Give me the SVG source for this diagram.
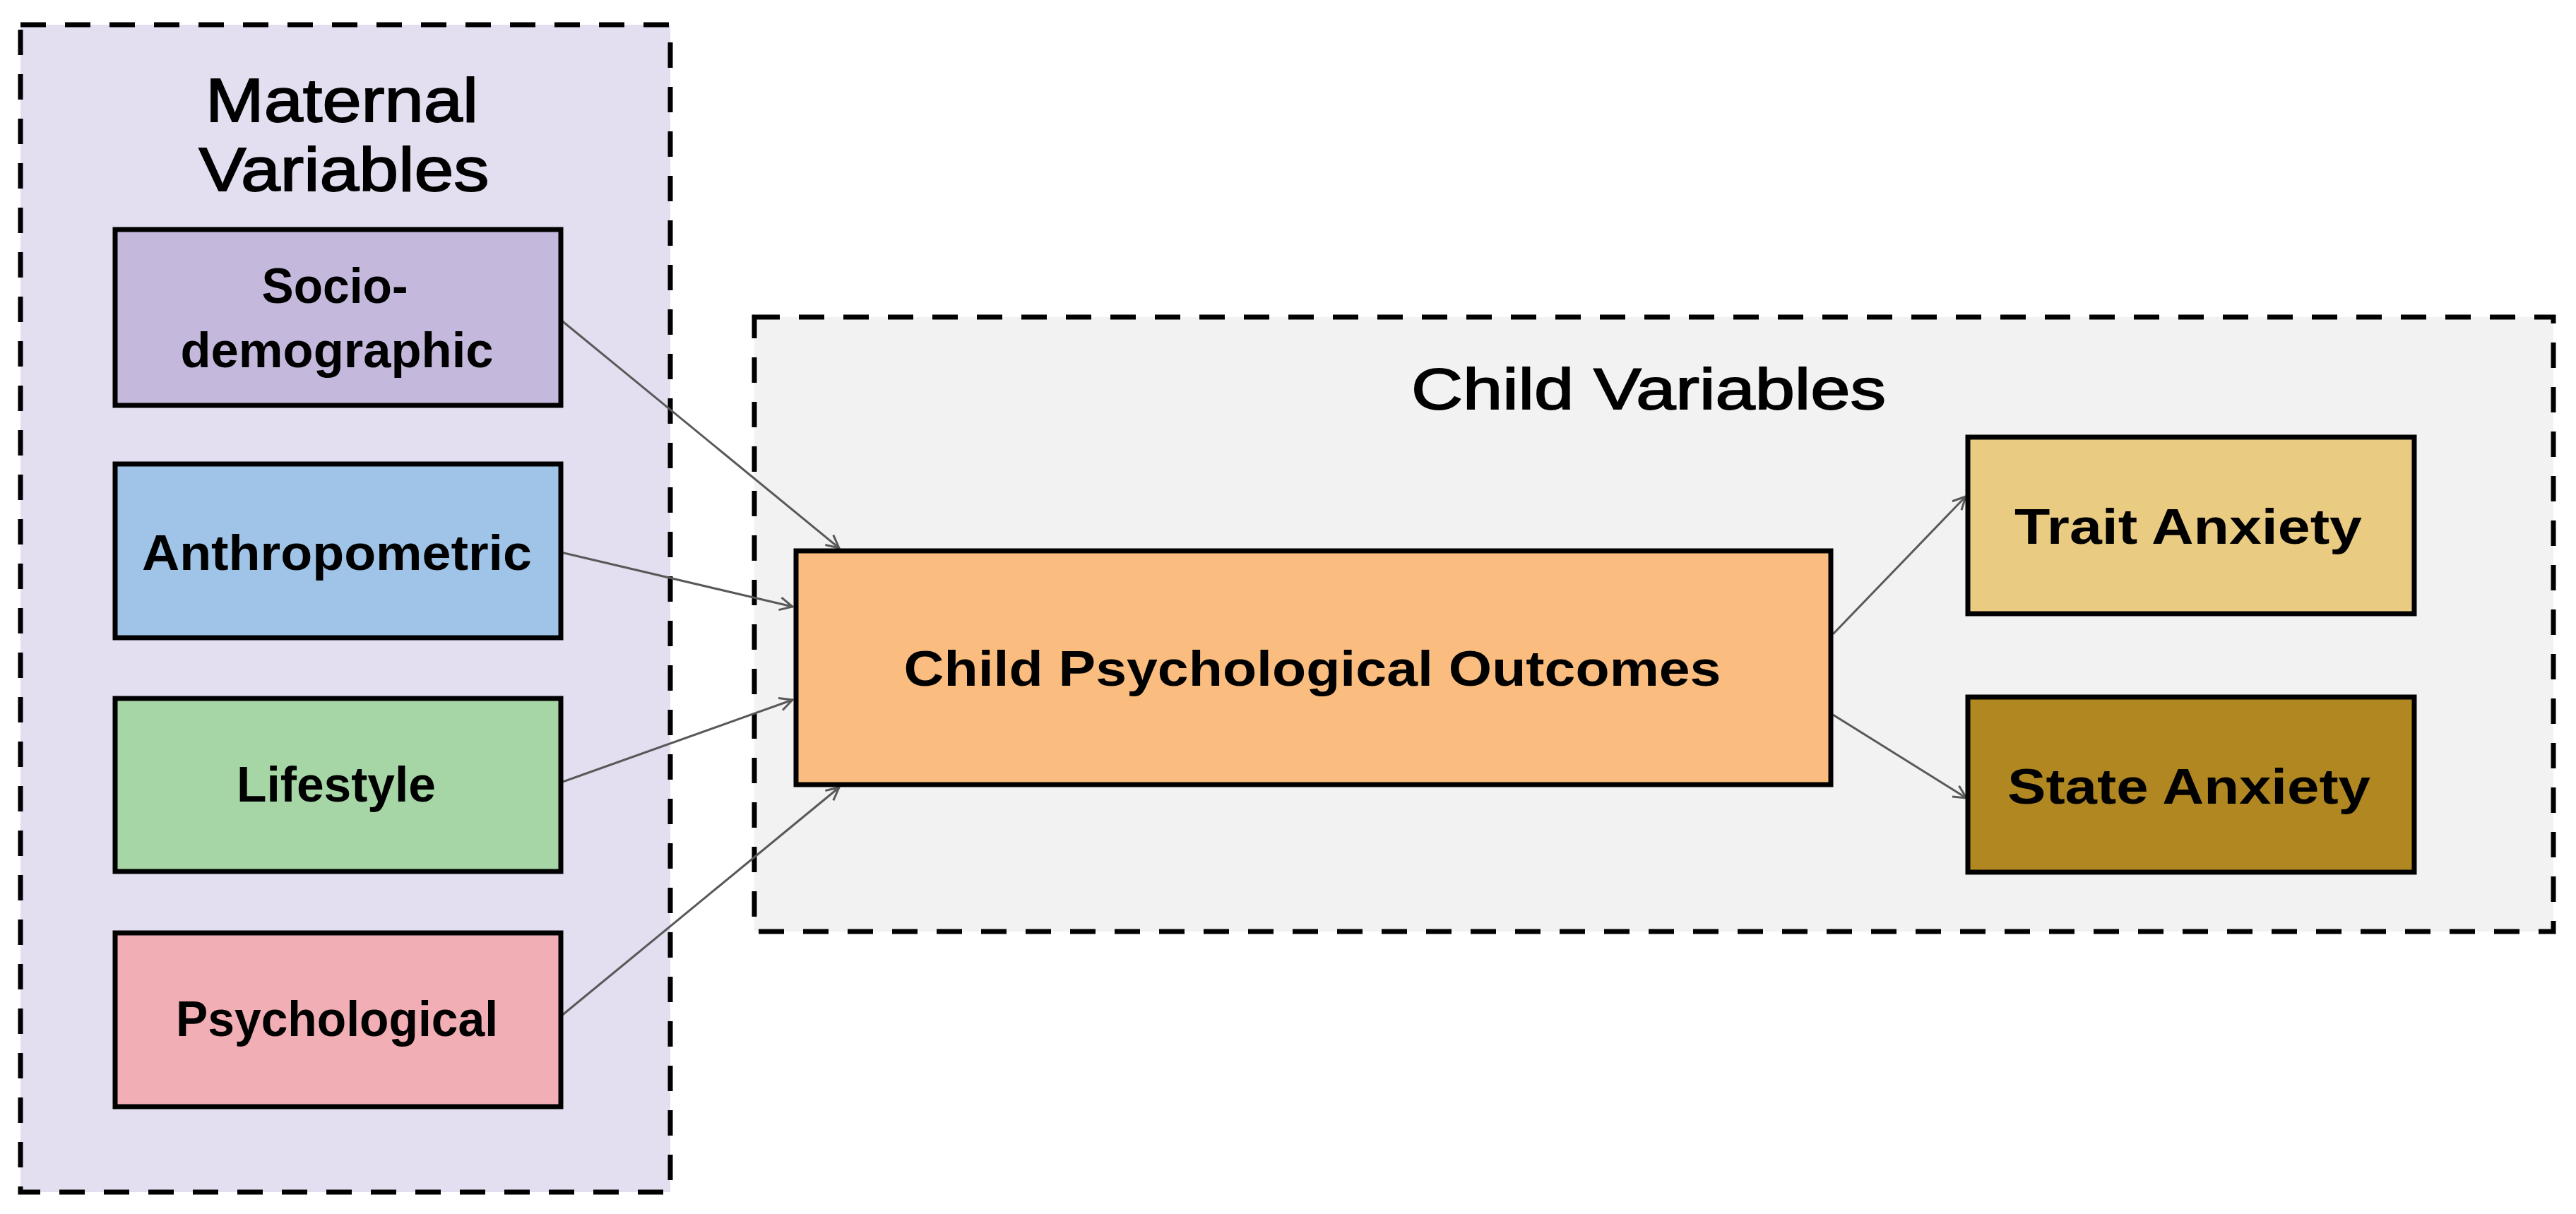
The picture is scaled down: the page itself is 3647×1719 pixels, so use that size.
<svg xmlns="http://www.w3.org/2000/svg" width="3647" height="1719" viewBox="0 0 3647 1719">
<style>
.grp{stroke:#000;stroke-width:7;stroke-dasharray:36 27}
.box{stroke:#000;stroke-width:7}
.lbl{font-family:"Liberation Sans",Arial,sans-serif;font-weight:bold;font-size:70px;fill:#000;text-anchor:middle}
.ttl{font-family:"Liberation Sans",Arial,sans-serif;font-weight:normal;fill:#000;stroke:#000;stroke-width:1.8;text-anchor:middle}
.con{stroke:#595959;stroke-width:3;fill:none}
</style>
<defs>
<marker id="arr" markerUnits="userSpaceOnUse" viewBox="0 0 24 24" refX="21" refY="12" markerWidth="24" markerHeight="24" orient="auto">
<path d="M3,3 L21,12 L3,21" fill="none" stroke="#595959" stroke-width="3"/>
</marker>
</defs>
<rect width="3647" height="1719" fill="#fff"/>
<g id="maternal-variables">
<rect class="grp" x="29" y="35" width="920" height="1653" fill="#E3DFF0"/>
<text class="ttl" x="484" y="172" font-size="88" textLength="386" lengthAdjust="spacingAndGlyphs">Maternal</text>
<text class="ttl" x="487" y="270" font-size="88" textLength="411" lengthAdjust="spacingAndGlyphs">Variables</text>
</g>
<g id="child-variables">
<rect class="grp" x="1068" y="449" width="2547" height="870" fill="#F2F2F2"/>
<text class="ttl" x="2334" y="579" font-size="82" textLength="672" lengthAdjust="spacingAndGlyphs">Child Variables</text>
</g>
<g id="connectors">
<line class="con" x1="794" y1="453" x2="1188" y2="776" marker-end="url(#arr)"/>
<line class="con" x1="794" y1="782" x2="1122" y2="859" marker-end="url(#arr)"/>
<line class="con" x1="794" y1="1108" x2="1122" y2="991" marker-end="url(#arr)"/>
<line class="con" x1="794" y1="1439" x2="1188" y2="1115" marker-end="url(#arr)"/>
<line class="con" x1="2595" y1="898" x2="2783" y2="703" marker-end="url(#arr)"/>
<line class="con" x1="2595" y1="1012" x2="2784" y2="1130" marker-end="url(#arr)"/>
</g>
<g id="socio-demographic">
<rect class="box" x="163" y="325" width="631" height="249" fill="#C4B9DD"/>
<text class="lbl" x="474" y="429" textLength="207" lengthAdjust="spacingAndGlyphs">Socio-</text>
<text class="lbl" x="477" y="520" textLength="443" lengthAdjust="spacingAndGlyphs">demographic</text>
</g>
<g id="anthropometric">
<rect class="box" x="163" y="657" width="631" height="246" fill="#9FC4E7"/>
<text class="lbl" x="477" y="807" textLength="552" lengthAdjust="spacingAndGlyphs">Anthropometric</text>
</g>
<g id="lifestyle">
<rect class="box" x="163" y="989" width="631" height="245" fill="#A7D6A6"/>
<text class="lbl" x="476" y="1135" textLength="282" lengthAdjust="spacingAndGlyphs">Lifestyle</text>
</g>
<g id="psychological">
<rect class="box" x="163" y="1321" width="631" height="246" fill="#F2AEB5"/>
<text class="lbl" x="477" y="1467" textLength="456" lengthAdjust="spacingAndGlyphs">Psychological</text>
</g>
<g id="child-psychological-outcomes">
<rect class="box" x="1127" y="780" width="1465" height="331" fill="#FABD7F"/>
<text class="lbl" x="1858" y="971" font-size="74" textLength="1157" lengthAdjust="spacingAndGlyphs">Child Psychological Outcomes</text>
</g>
<g id="trait-anxiety">
<rect class="box" x="2786" y="619" width="632" height="250" fill="#E9CB82"/>
<text class="lbl" x="3098" y="770" font-size="78" textLength="492" lengthAdjust="spacingAndGlyphs">Trait Anxiety</text>
</g>
<g id="state-anxiety">
<rect class="box" x="2786" y="987" width="632" height="248" fill="#B08720"/>
<text class="lbl" x="3099" y="1138" font-size="76" textLength="514" lengthAdjust="spacingAndGlyphs">State Anxiety</text>
</g>
</svg>
